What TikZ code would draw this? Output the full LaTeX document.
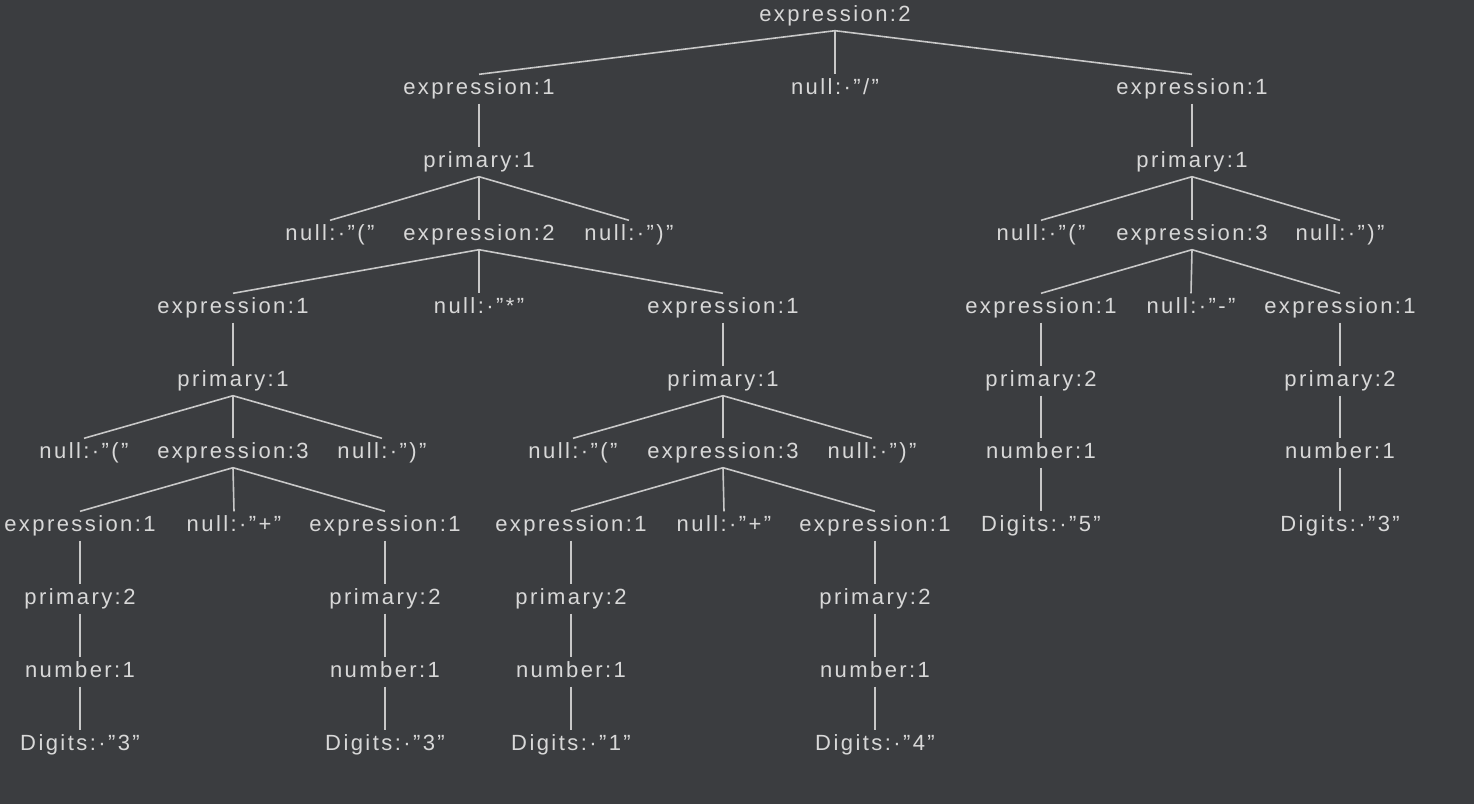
\documentclass[tikz,border=0pt]{standalone}
\usepackage{fontspec}
\setmainfont{Liberation Sans}[LetterSpace=11]
\definecolor{bg}{HTML}{3B3D40}
\definecolor{fg}{HTML}{D8D8D8}
\definecolor{ln}{HTML}{C8C8C8}
\begin{document}
\begin{tikzpicture}[x=1pt,y=-1pt,
  t/.style={text=fg,font=\fontsize{22}{24}\selectfont,inner xsep=0,inner ysep=4pt,text height=16pt,text depth=5pt},
  e/.style={draw=ln,line width=1.6pt}]
\fill[bg] (0,0) rectangle (1474,804);
\useasboundingbox (0,0) rectangle (1474,804);
% root
\node[t] (r) at (835,16) {expression:2};
\node[t] (a) at (479,89) {expression:1};
\node[t] (b) at (835,89) {null:·"/"};
\node[t] (c) at (1192,89) {expression:1};
% left
\node[t] (ap) at (479,162) {primary:1};
\node[t] (ap1) at (330,235) {null:·"("};
\node[t] (ap2) at (479,235) {expression:2};
\node[t] (ap3) at (629,235) {null:·")"};
\node[t] (m1) at (233,308) {expression:1};
\node[t] (m2) at (479,308) {null:·"*"};
\node[t] (m3) at (723,308) {expression:1};
% m1 subtree
\node[t] (p1) at (233,381) {primary:1};
\node[t] (p1a) at (84,453) {null:·"("};
\node[t] (p1b) at (233,453) {expression:3};
\node[t] (p1c) at (382,453) {null:·")"};
\node[t] (q1) at (80,526) {expression:1};
\node[t] (q2) at (234,526) {null:·"+"};
\node[t] (q3) at (385,526) {expression:1};
\node[t] (q1p) at (80,599) {primary:2};
\node[t] (q1n) at (80,672) {number:1};
\node[t] (q1d) at (80,745) {Digits:·"3"};
\node[t] (q3p) at (385,599) {primary:2};
\node[t] (q3n) at (385,672) {number:1};
\node[t] (q3d) at (385,745) {Digits:·"3"};
% m3 subtree
\node[t] (p2) at (723,381) {primary:1};
\node[t] (p2a) at (573,453) {null:·"("};
\node[t] (p2b) at (723,453) {expression:3};
\node[t] (p2c) at (872,453) {null:·")"};
\node[t] (s1) at (571,526) {expression:1};
\node[t] (s2) at (724,526) {null:·"+"};
\node[t] (s3) at (875,526) {expression:1};
\node[t] (s1p) at (571,599) {primary:2};
\node[t] (s1n) at (571,672) {number:1};
\node[t] (s1d) at (571,745) {Digits:·"1"};
\node[t] (s3p) at (875,599) {primary:2};
\node[t] (s3n) at (875,672) {number:1};
\node[t] (s3d) at (875,745) {Digits:·"4"};
% right
\node[t] (cp) at (1192,162) {primary:1};
\node[t] (cp1) at (1041,235) {null:·"("};
\node[t] (cp2) at (1192,235) {expression:3};
\node[t] (cp3) at (1340,235) {null:·")"};
\node[t] (u1) at (1041,308) {expression:1};
\node[t] (u2) at (1191,308) {null:·"-"};
\node[t] (u3) at (1340,308) {expression:1};
\node[t] (u1p) at (1041,381) {primary:2};
\node[t] (u1n) at (1041,453) {number:1};
\node[t] (u1d) at (1041,526) {Digits:·"5"};
\node[t] (u3p) at (1340,381) {primary:2};
\node[t] (u3n) at (1340,453) {number:1};
\node[t] (u3d) at (1340,526) {Digits:·"3"};
% edges
\foreach \p/\c in {r/a,r/b,r/c,a/ap,ap/ap1,ap/ap2,ap/ap3,ap2/m1,ap2/m2,ap2/m3,
  m1/p1,p1/p1a,p1/p1b,p1/p1c,p1b/q1,p1b/q2,p1b/q3,q1/q1p,q1p/q1n,q1n/q1d,q3/q3p,q3p/q3n,q3n/q3d,
  m3/p2,p2/p2a,p2/p2b,p2/p2c,p2b/s1,p2b/s2,p2b/s3,s1/s1p,s1p/s1n,s1n/s1d,s3/s3p,s3p/s3n,s3n/s3d,
  c/cp,cp/cp1,cp/cp2,cp/cp3,cp2/u1,cp2/u2,cp2/u3,u1/u1p,u1p/u1n,u1n/u1d,u3/u3p,u3p/u3n,u3n/u3d}
  \draw[e] (\p.south) -- (\c.north);
\end{tikzpicture}
\end{document}
